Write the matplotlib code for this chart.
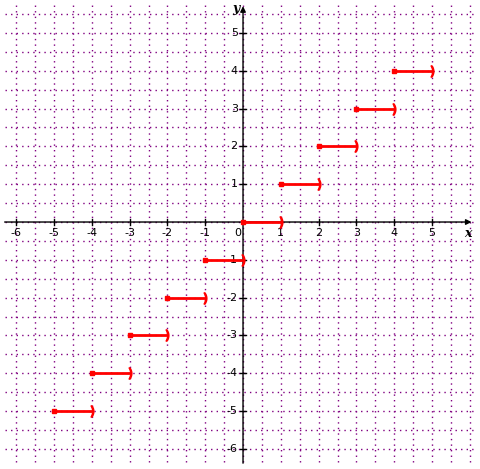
import matplotlib
matplotlib.use("Agg")
import matplotlib.pyplot as plt
import numpy as np

starts = [-5, -4, -3, -2, -1, 0, 1, 2, 3, 4]
values = [-5, -4, -3, -2, -1, 0, 1, 2, 3, 4]
ticks = [-6, -5, -4, -3, -2, -1, 1, 2, 3, 4, 5]

fig = plt.figure(figsize=(4.8, 4.69), dpi=100)
ax = fig.add_axes([0, 0, 1, 1])
ax.set_xlim(-6.43, 6.27)
ax.set_ylim(-6.53, 5.87)
ax.axis('off')

for g in np.arange(-6.0, 6.01, 0.5):
    ax.plot([g, g], [-6.35, 5.75], color='#800080', ls=(0, (1, 3)), lw=1, zorder=0)
for g in np.arange(-6.0, 5.51, 0.5):
    ax.plot([-6.3, 6.15], [g, g], color='#800080', ls=(0, (1, 3)), lw=1, zorder=0)

ax.annotate('', xy=(6.12, 0), xytext=(-6.38, 0),
            arrowprops=dict(arrowstyle='-|>', color='black', lw=1, mutation_scale=8))
ax.annotate('', xy=(0, 5.78), xytext=(0, -6.45),
            arrowprops=dict(arrowstyle='-|>', color='black', lw=1, mutation_scale=8))
ax.text(5.95, -0.12, 'x', style='italic', weight='bold', family='DejaVu Serif',
        fontsize=9, ha='center', va='top')
ax.text(-0.2, 5.65, 'y', style='italic', weight='bold', family='DejaVu Serif',
        fontsize=9, ha='center', va='center')

for t in ticks:
    ax.plot([t, t], [-0.09, 0.09], color='black', lw=1)
    ax.text(t, -0.17, str(t), ha='center', va='top', fontsize=8)
    ax.plot([-0.09, 0.09], [t, t], color='black', lw=1)
    ax.text(-0.14, t, str(t), ha='right', va='center', fontsize=8)
ax.text(-0.05, -0.17, '0', ha='right', va='top', fontsize=8)

for s, v in zip(starts, values):
    ax.plot([s, s + 1], [v, v], color='red', lw=2, zorder=3)
    ax.plot(s, v, 's', color='red', ms=3.5, zorder=4)
    ax.plot(s + 1, v, marker='$)$', color='red', ms=8, zorder=4)

fig.savefig('out.png', dpi=100)
